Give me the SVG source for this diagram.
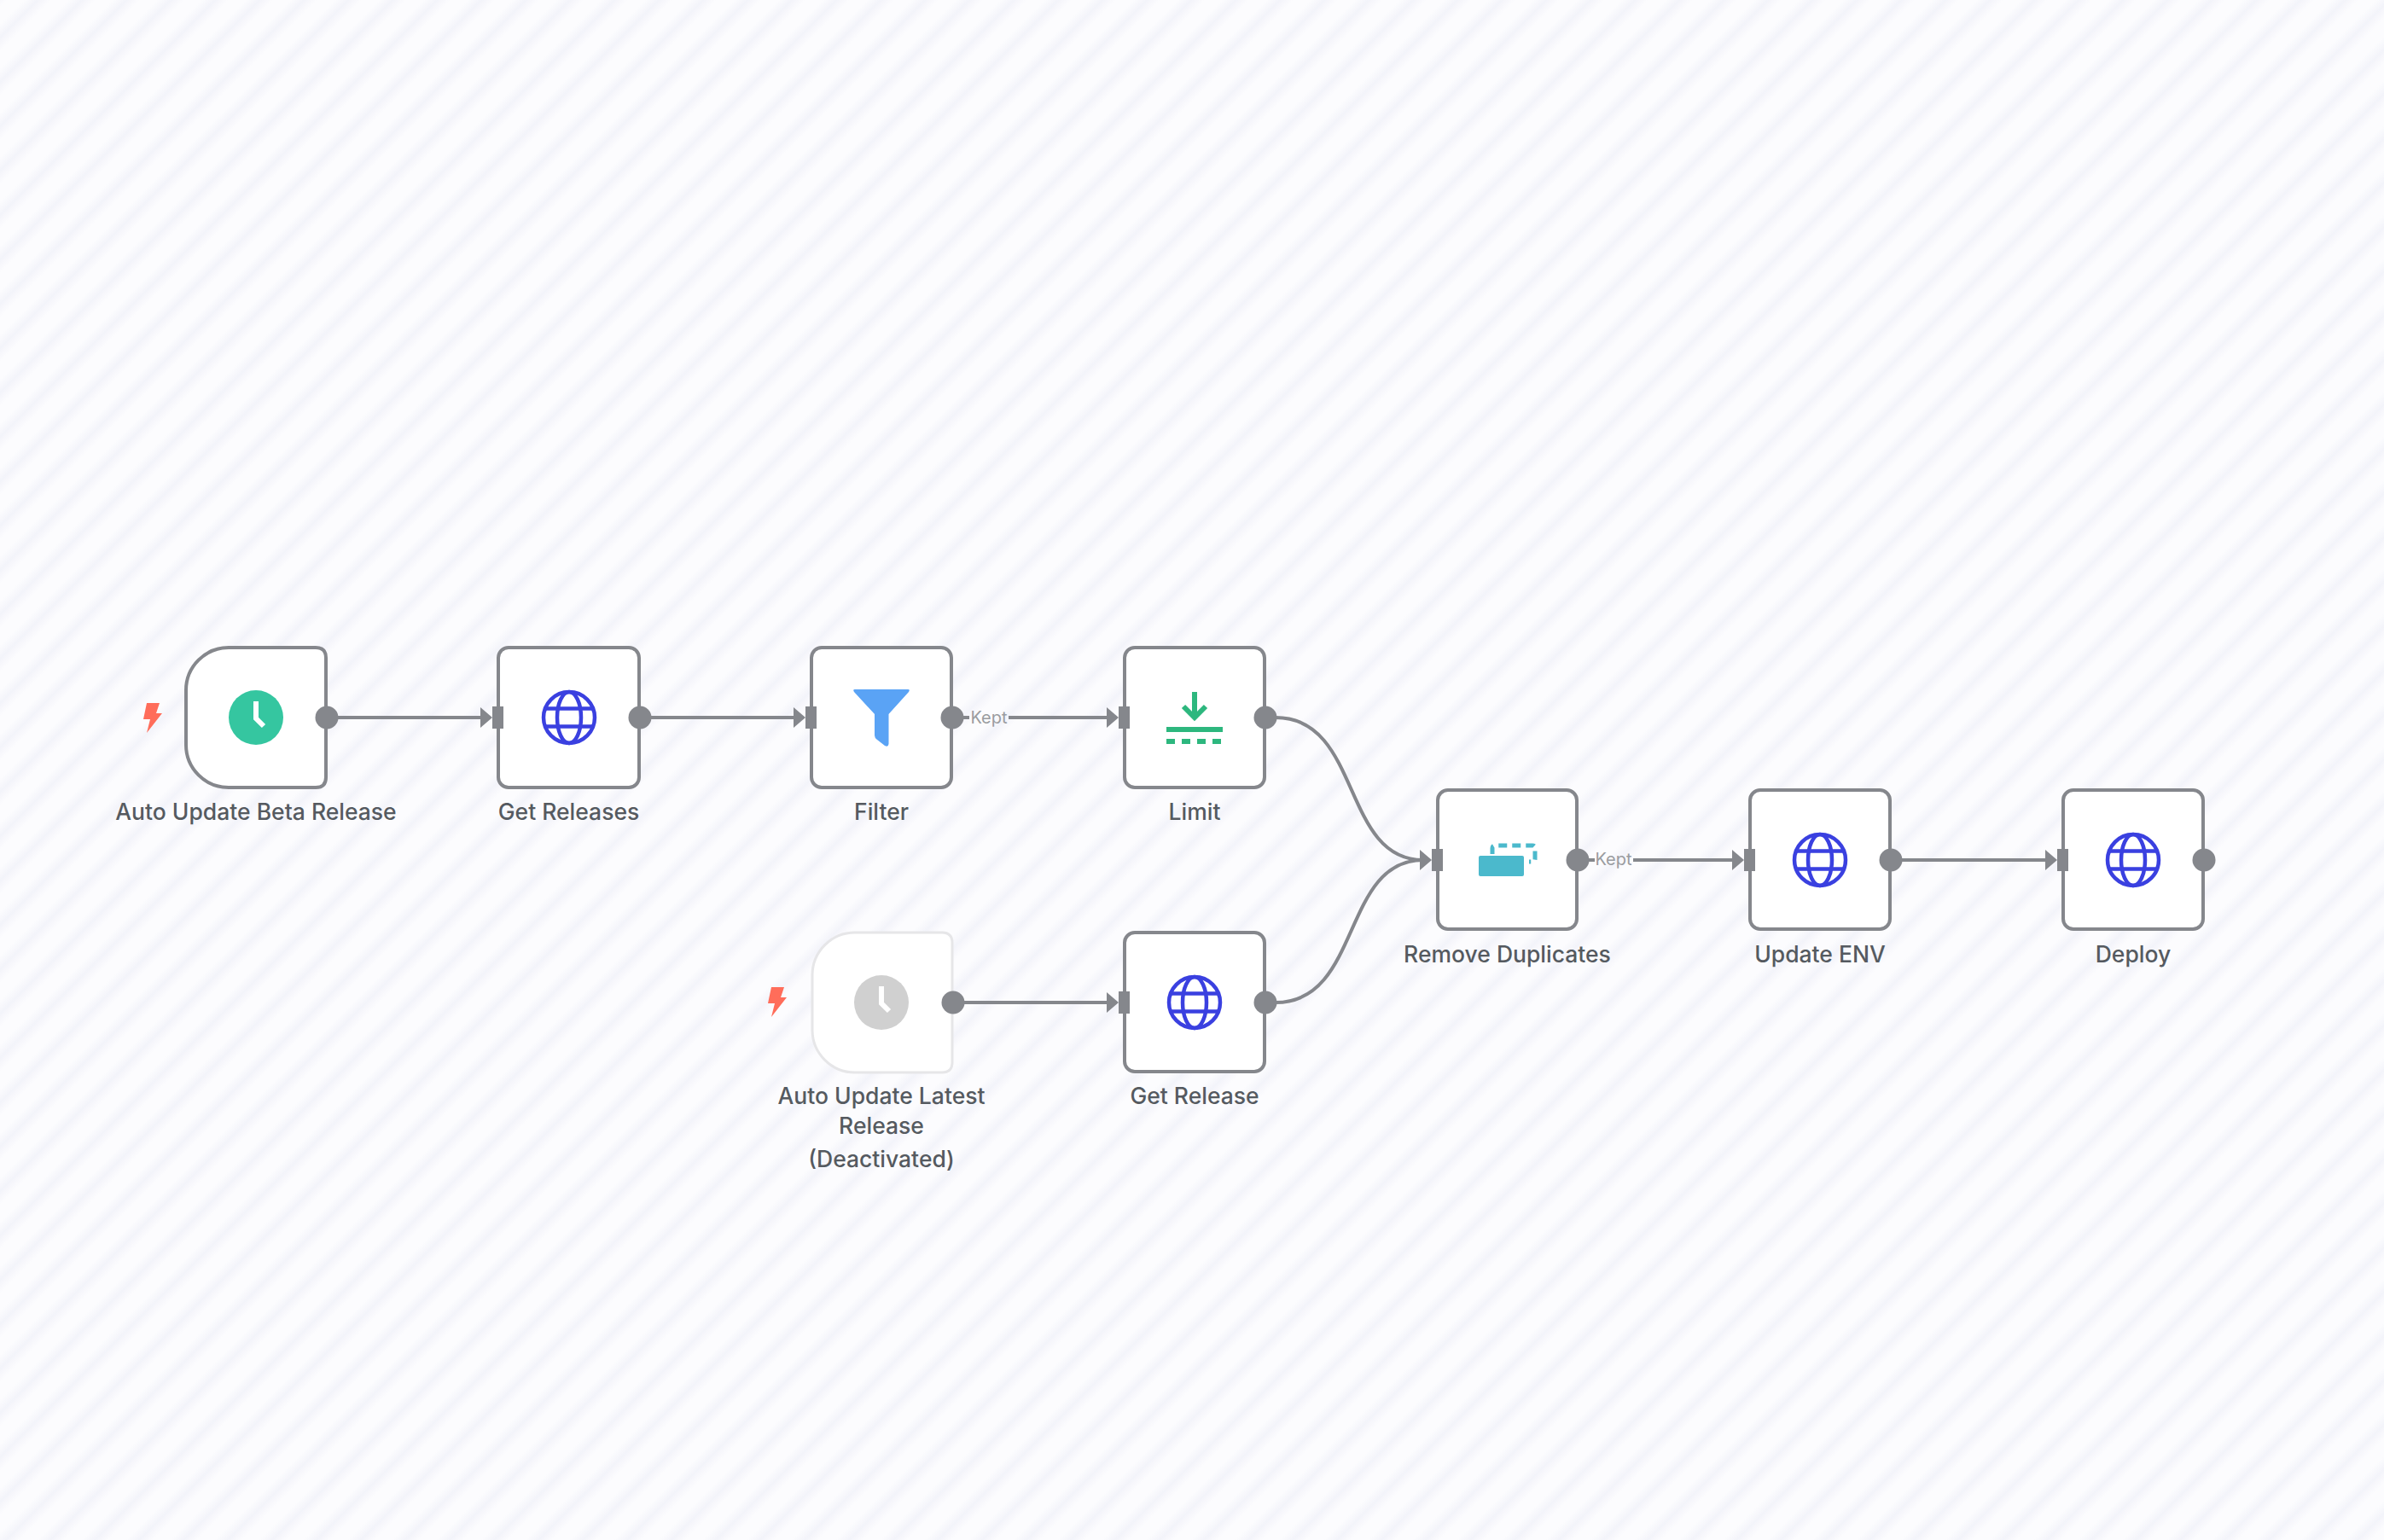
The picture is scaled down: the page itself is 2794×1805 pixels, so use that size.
<svg xmlns="http://www.w3.org/2000/svg" width="2794" height="1805" viewBox="0 0 2794 1805">
<defs>
<style>
.box{fill:#fff;stroke:#85878c;stroke-width:4}
.off{fill:#fff;stroke:#e6e6e8;stroke-width:3}
.lb{font-family:Inter,"Liberation Sans",sans-serif;font-size:26.500px;font-weight:550;fill:#555a60;text-anchor:middle}
.kept{font-family:Inter,"Liberation Sans",sans-serif;font-size:20px;fill:#9a9ca0;text-anchor:middle}
.wire{fill:none;stroke:#85878c;stroke-width:4}
.dot{fill:#85878c}
.g{fill:none;stroke:#3a40e0;stroke-width:4.500}
</style>
<linearGradient id="st" gradientUnits="userSpaceOnUse" x1="0" y1="0" x2="26" y2="26" spreadMethod="repeat">
<stop offset="0" stop-color="#f8f8fc"/><stop offset=".15" stop-color="#fcfcfe"/><stop offset=".55" stop-color="#fcfcfe"/><stop offset=".85" stop-color="#f3f4fa"/><stop offset="1" stop-color="#f8f8fc"/>
</linearGradient>
<g id="globe"><circle r="30" class="g"/><ellipse rx="14" ry="30" class="g"/><path class="g" d="M-28-10.500H28M-28 10.500H28"/></g>
<path id="bolt" d="M4 0H19L15 12H22L4 35L8 19H0Z" fill="#ff6d5a"/>
<g id="port"><rect x="-7" y="-13" width="13" height="26" fill="#85878c"/><path d="M-21-12L-7 0L-21 12Z" fill="#85878c"/></g>
</defs>
<rect width="2794" height="1805" fill="url(#st)"/>
<g id="n1"><path class="box" d="M268 759H370Q382 759 382 771V911Q382 923 370 923H268A50 50 0 0 1 218 873V809A50 50 0 0 1 268 759Z"/><circle cx="300" cy="841" r="32" fill="#35c6a0"/><path d="M300 822V842L309 851" fill="none" stroke="#fff" stroke-width="6"/><circle cx="383" cy="841" r="13.500" class="dot"/><use href="#bolt" x="168" y="824"/><text class="lb" x="300" y="961">Auto Update Beta Release</text></g>
<g id="n2"><rect class="box" x="584" y="759" width="165" height="164" rx="12"/><use href="#globe" x="667" y="841"/><circle cx="750" cy="841" r="13.500" class="dot"/><text class="lb" x="666.500" y="961">Get Releases</text></g>
<g id="n3"><rect class="box" x="951" y="759" width="164" height="164" rx="12"/><path d="M1002 808H1064Q1067 808 1065 811L1041.500 837V872Q1041 876 1037 874L1028 867Q1025 865 1025 862V837L1001 811Q999 808 1002 808Z" fill="#5aa3f5"/><circle cx="1116" cy="841" r="13.500" class="dot"/><text class="lb" x="1033" y="961">Filter</text></g>
<g id="n4"><rect class="box" x="1318" y="759" width="164" height="164" rx="12"/><path d="M1400 811V841M1387 828L1400 841L1413 828" fill="none" stroke="#2db77e" stroke-width="6"/><rect x="1367" y="852" width="66" height="6" fill="#2db77e"/><path d="M1367 869H1433" stroke="#2db77e" stroke-width="6" stroke-dasharray="10 8"/><circle cx="1483" cy="841" r="13.500" class="dot"/><text class="lb" x="1400" y="961">Limit</text></g>
<g id="n5"><rect class="box" x="1685" y="926" width="163" height="163" rx="12"/><rect x="1733" y="1003" width="53" height="24" rx="2" fill="#4bb9cc"/><path d="M1749 1001V994Q1749 991 1752 991H1796Q1799 991 1799 994V1007Q1799 1010 1796 1010H1792" fill="none" stroke="#4bb9cc" stroke-width="5" stroke-dasharray="10 6"/><circle cx="1849" cy="1008" r="13.500" class="dot"/><text class="lb" x="1766.500" y="1128">Remove Duplicates</text></g>
<g id="n6"><rect class="box" x="2051" y="926" width="164" height="163" rx="12"/><use href="#globe" x="2133" y="1008"/><circle cx="2216" cy="1008" r="13.500" class="dot"/><text class="lb" x="2133" y="1128">Update ENV</text></g>
<g id="n7"><rect class="box" x="2418" y="926" width="164" height="163" rx="12"/><use href="#globe" x="2500" y="1008"/><circle cx="2583" cy="1008" r="13.500" class="dot"/><text class="lb" x="2500" y="1128">Deploy</text></g>
<g id="n8"><path class="off" d="M1002 1093H1104Q1116 1093 1116 1105V1245Q1116 1257 1104 1257H1002A50 50 0 0 1 952 1207V1143A50 50 0 0 1 1002 1093Z"/><circle cx="1033" cy="1175" r="32" fill="#d0d0d0"/><path d="M1033 1156V1176L1042 1185" fill="none" stroke="#fff" stroke-width="6"/><circle cx="1117" cy="1175" r="13.500" class="dot"/><use href="#bolt" x="900" y="1157"/><text class="lb" x="1033" y="1294">Auto Update Latest</text><text class="lb" x="1033" y="1329">Release</text><text class="lb" x="1033" y="1368">(Deactivated)</text></g>
<g id="n9"><rect class="box" x="1318" y="1093" width="164" height="163" rx="12"/><use href="#globe" x="1400" y="1175"/><circle cx="1483" cy="1175" r="13.500" class="dot"/><text class="lb" x="1400" y="1294">Get Release</text></g>
<g id="connectors">
<path class="wire" d="M395 841H566"/><use href="#port" x="584" y="841"/>
<path class="wire" d="M762 841H933"/><use href="#port" x="951" y="841"/>
<path class="wire" d="M1128 841H1136M1182 841H1300"/><use href="#port" x="1318" y="841"/>
<path class="wire" d="M1495 841C1596 841 1572 1008 1668 1008"/>
<path class="wire" d="M1495 1175C1596 1175 1572 1008 1668 1008"/><use href="#port" x="1685" y="1008"/>
<path class="wire" d="M1861 1008H1869M1914 1008H2033"/><use href="#port" x="2051" y="1008"/>
<path class="wire" d="M2228 1008H2400"/><use href="#port" x="2418" y="1008"/>
<path class="wire" d="M1129 1175H1300"/><use href="#port" x="1318" y="1175"/>
<text class="kept" x="1159" y="848">Kept</text>
<text class="kept" x="1891" y="1014">Kept</text>
</g>
</svg>
